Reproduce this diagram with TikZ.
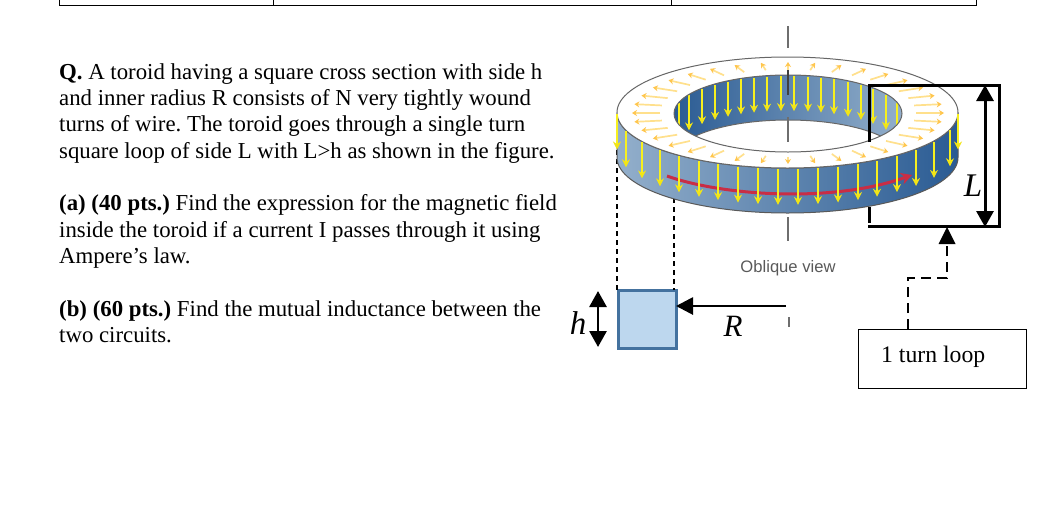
\documentclass[tikz,border=0pt]{standalone}
\usepackage{fontspec}
\setmainfont{Liberation Serif}
\newfontfamily\obliquefont{Liberation Sans}
\usetikzlibrary{arrows.meta}
\definecolor{sideLight}{HTML}{93AFCB}
\definecolor{sideDark}{HTML}{2A5B93}
\definecolor{yellowArrow}{HTML}{F7F01E}
\definecolor{headYellow}{HTML}{F2E516}
\definecolor{paleOrange}{HTML}{FFE08C}
\definecolor{headOrange}{HTML}{FFC64E}
\definecolor{redArrow}{HTML}{C92D45}
\definecolor{axisGray}{HTML}{6E6E6E}
\definecolor{squareFill}{HTML}{BDD7EE}
\definecolor{squareEdge}{HTML}{44729F}
\tikzset{
  para/.style={anchor=north west,inner sep=0pt,align=left,font=\fontsize{22.8}{26.4}\selectfont\frenchspacing},
  rimline/.style={draw=black!60,line width=1pt},
  yarrow/.style={draw=yellowArrow,line width=1.7pt,-{Stealth[length=8pt,width=8pt,color=headYellow]}},
  oarrow/.style={draw=paleOrange,line width=1.7pt,-{Stealth[length=5pt,width=6pt,color=headOrange]}},
  axis/.style={draw=axisGray,line width=2.2pt},
  loopline/.style={draw=black,line width=3pt},
  projdash/.style={draw=black,line width=1.2pt,dash pattern=on 5pt off 4pt},
  bigtip/.style={-{Triangle[length=17pt,width=17pt]}},
  bigtips/.style={{Triangle[length=16pt,width=17pt]}-{Triangle[length=16pt,width=17pt]}},
}
\begin{document}
\begin{tikzpicture}[x=1pt,y=-1pt]
\useasboundingbox (0,0) rectangle (1046,520);
% table remnant
\draw[black,line width=1pt] (59,0) -- (59,5.5) -- (976,5.5) -- (976,0) (273,0) -- (273,5.5) (671,0) -- (671,5.5);
% text
\node[para] (q) at (59,63) {\textbf{Q.} A toroid having a square cross section with side h\\and inner radius R consists of N very tightly wound\\turns of wire. The toroid goes through a single turn\\square loop of side L with L>h as shown in the figure.};
\node[para] (a) at (59,194.5) {\textbf{(a) (40 pts.)} Find the expression for the magnetic field\\inside the toroid if a current I passes through it using\\Ampere’s law.};
\node[para] (b) at (59,300) {\textbf{(b) (60 pts.)} Find the mutual inductance between the\\two circuits.};
% dashed projections
\coordinate (d1t) at (617,150);
\coordinate (d2t) at (674,198);
\node[draw=squareEdge,fill=squareFill,line width=3pt,outer sep=0pt,minimum width=58pt,minimum height=58pt,inner sep=0pt] (sq) at (647,319.5) {};
\draw[projdash] (d1t) -- (617,290);
\draw[projdash] (d2t) -- (674,290);
% axis outside
\coordinate (a1) at (788,26); \coordinate (a2) at (788,48);
\coordinate (a3) at (788,70); \coordinate (a4) at (788,95);
\coordinate (a5) at (788,117); \coordinate (a6) at (788,142);
\coordinate (a7) at (788,217); \coordinate (a8) at (788,241);
\coordinate (a9) at (789,317); \coordinate (a10) at (789,327);
\draw[axis] (a1) -- (a2) (a7) -- (a8) (a9) -- (a10);
% outer side wall
\shade[left color=sideLight,right color=sideDark,draw=black!65,line width=1pt]
  (617,112.5) -- (617,157.5) arc[start angle=180,end angle=360,x radius=170.5pt,y radius=55.5pt]
  -- (958,112.5) arc[start angle=0,end angle=-180,x radius=170.5pt,y radius=55.5pt] -- cycle;
% red current
\draw[draw=redArrow,line width=3pt,-{Stealth[length=11pt,width=12pt]}]
  (667,176) .. controls (720,195) and (830,204) .. (912,175);
% top face
\draw[rimline,fill=white] (787.5,112.5) ellipse[x radius=170.5pt,y radius=55.5pt];
% inner wall
\begin{scope}
  \clip (788,113.5) ellipse[x radius=114pt,y radius=38.5pt];
  \shade[left color=sideDark,right color=sideLight] (674,75) rectangle (902,152);
  \foreach \x in {679,689,702,715,728,741,754,767,781,794,808,821,834,848,861,873,886,897}{
    \pgfmathsetmacro{\u}{(\x-788)/114}
    \pgfmathsetmacro{\yy}{113.5-38.5*sqrt(max(0,1-\u*\u))+1}
    \draw[yarrow] (\x,\yy) -- (\x,\yy+35);
  }
  \fill[white] (788,158.5) ellipse[x radius=114pt,y radius=38.5pt];
  \draw[rimline] (788,158.5) ellipse[x radius=114pt,y radius=38.5pt];
\end{scope}
\draw[rimline] (788,113.5) ellipse[x radius=114pt,y radius=38.5pt];
\draw[axis] (a5) -- (a6);
\draw[draw=black!75,line width=2.2pt] (a3) -- (a4);
% orange radial arrows on the top face
\foreach \t in {0,10,...,350}{
  \pgfmathsetmacro{\xa}{788+128*cos(\t)}
  \pgfmathsetmacro{\ya}{113+43.5*sin(\t)}
  \pgfmathsetmacro{\xb}{788+156*cos(\t)}
  \pgfmathsetmacro{\yb}{113+51*sin(\t)}
  \draw[oarrow] (\xa,\ya) -- (\xb,\yb);
}
% outer yellow arrows
\foreach \x in {617,626,642,660,679,699,718,738,758,778,798,818,838,858,877,897,916,934,950,958}{
  \pgfmathsetmacro{\u}{(\x-787.5)/170.5}
  \pgfmathsetmacro{\yy}{112.5+55.5*sqrt(max(0,1-\u*\u))+1}
  \draw[yarrow] (\x,\yy) -- (\x,\yy+36);
}
% square loop
\coordinate (l1) at (869,142); \coordinate (l2) at (869,85.5);
\coordinate (l3) at (999,85.5); \coordinate (l4) at (999,226.5);
\coordinate (l5) at (868,226.5); \coordinate (l6) at (869,207);
\coordinate (l7) at (869,223);
\draw[loopline,line join=miter] (l1) -- (l2) -- (l3) -- (l4) -- (l5);
\draw[loopline] (l6) -- (l7);
\coordinate (Lt) at (985,85); \coordinate (Lb) at (985,227);
\draw[draw=black,line width=3pt,bigtips] (Lt) -- (Lb);
\node[inner sep=0pt,font=\fontsize{33}{33}\selectfont\itshape] (Ltxt) at (973,186) {L};
% label box and dashed leader
\node[draw=black,line width=1pt,minimum width=168pt,minimum height=59pt,inner sep=0pt] (box) at (942,358.5) {};
\node[anchor=base west,inner sep=0pt,font=\fontsize{23.7}{23.7}\selectfont] (boxtxt) at (881,362) {1 turn loop};
\coordinate (leadA) at (908,278); \coordinate (leadB) at (947,278); \coordinate (leadC) at (947,244);
\coordinate (leadS) at (908,329);
\draw[draw=black,line width=2.8pt,dash pattern=on 10pt off 6pt] (leadS) -- (leadA) -- (leadB) -- (leadC);
\fill[black] (947,227) -- (955.5,244) -- (938.5,244) -- cycle;
% R arrow
\coordinate (Rs) at (786,306);
\draw[draw=black,line width=2.8pt,bigtip] (Rs) -- (sq.east |- Rs);
\node[inner sep=0pt,font=\fontsize{31}{31}\selectfont\itshape] (Rtxt) at (733,326) {R};
% h arrow
\coordinate (ht) at (598,291); \coordinate (hb) at (598,347);
\draw[draw=black,line width=2.8pt,bigtips] (ht) -- (hb);
\node[inner sep=0pt,font=\fontsize{33}{33}\selectfont\itshape] (htxt) at (578,323) {h};
% caption
\node[inner sep=0pt,text=black!65,font=\obliquefont\fontsize{16.6}{16.6}\selectfont] (cap) at (788,268) {Oblique view};
\end{tikzpicture}
\end{document}
